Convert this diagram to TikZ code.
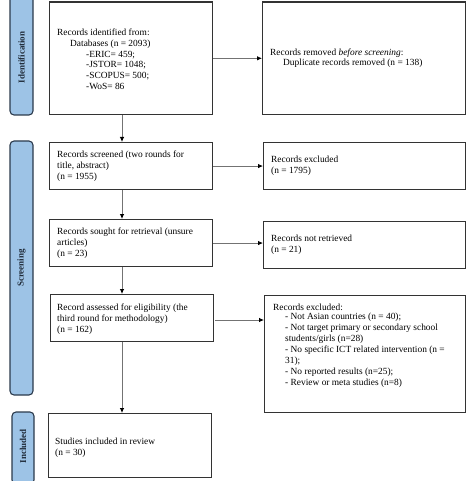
\documentclass[tikz,border=0pt]{standalone}
\usepackage{fontspec}
\setmainfont{Liberation Serif}
\usetikzlibrary{arrows.meta}
\definecolor{barfill}{HTML}{9DC3E6}
\definecolor{barline}{HTML}{2B3A4C}
\definecolor{bartext}{HTML}{1F2A38}
\newcommand{\fs}{\fontsize{9.4pt}{10.7pt}\selectfont}
\tikzset{
  box/.style={draw=black!80, line width=1.1pt, anchor=north west, inner sep=0pt},
  txt/.style={anchor=west, align=left, inner sep=0pt, font=\fs},
  bar/.style={draw=barline, fill=barfill, rounded corners=4pt, line width=1.1pt},
  barlabel/.style={rotate=90, font=\fontsize{9pt}{10pt}\selectfont\bfseries, text=bartext},
  arr/.style={draw=black!55, line width=0.8pt, -{Latex[length=5pt,width=4.5pt,color=black]}}
}
\begin{document}
\begin{tikzpicture}[x=1pt,y=-1pt]
\useasboundingbox (0,0) rectangle (474,481);
\clip (0,0) rectangle (474,481);
% side bars
\draw[bar] (10,-4) rectangle (33,115);
\node[barlabel] (idl) at (21.5,57.5) {Identification};
\draw[bar] (10,141) rectangle (33,395);
\node[barlabel] (scl) at (21.5,268) {Screening};
\draw[bar] (12,412) rectangle (34,484);
\node[barlabel] (inl) at (23,446) {Included};
% boxes
\node[box, minimum width=163pt, minimum height=112.5pt] (b1) at (49,1.5) {};
\node[box, minimum width=203pt, minimum height=112.5pt] (b2) at (262,1.5) {};
\node[box, minimum width=163pt, minimum height=47pt] (b3) at (49,142) {};
\node[box, minimum width=202pt, minimum height=47pt] (b4) at (263,142) {};
\node[box, minimum width=163pt, minimum height=47pt] (b5) at (49,219) {};
\node[box, minimum width=202pt, minimum height=47pt] (b6) at (263,221) {};
\node[box, minimum width=163pt, minimum height=47pt] (b7) at (50,294) {};
\node[box, minimum width=201pt, minimum height=117pt] (b8) at (264,295) {};
\node[box, minimum width=163pt, minimum height=64pt] (b9) at (48,413) {};
% texts
\node[txt] (t1) at ([shift={(8,1)}]b1.west)
  {Records identified from:\\
   \hspace*{13pt}Databases (n = 2093)\\
   \hspace*{29pt}-ERIC= 459;\\
   \hspace*{29pt}-JSTOR= 1048;\\
   \hspace*{29pt}-SCOPUS= 500;\\
   \hspace*{29pt}-WoS= 86};
\node[txt] (t2) at ([shift={(8,0)}]b2.west)
  {Records removed \textit{before screening}:\\
   \hspace*{13pt}Duplicate records removed (n = 138)};
\node[txt] (t3) at ([shift={(8,0)}]b3.west)
  {Records screened (two rounds for\\ title, abstract)\\ (n = 1955)};
\node[txt] (t4) at ([shift={(8,0)}]b4.west)
  {Records excluded\\ (n = 1795)};
\node[txt] (t5) at ([shift={(8,0)}]b5.west)
  {Records sought for retrieval (unsure\\ articles)\\ (n = 23)};
\node[txt] (t6) at ([shift={(8,0)}]b6.west)
  {Records not retrieved\\ (n = 21)};
\node[txt] (t7) at ([shift={(7,1)}]b7.west)
  {Record assessed for eligibility (the\\ third round for methodology)\\ (n = 162)};
\node[txt, anchor=north west, font=\fontsize{9.4pt}{11pt}\selectfont] (t8h) at ([shift={(9,9)}]b8.north west)
  {Records excluded:};
\node[txt, anchor=north west, font=\fontsize{9.4pt}{11pt}\selectfont] (t8) at ([shift={(12,2)}]t8h.south west)
  {- Not Asian countries (n = 40);\\
   - Not target primary or secondary school\\
   students/girls (n=28)\\
   - No specific ICT related intervention (n =\\
   31);\\
   - No reported results (n=25);\\
   - Review or meta studies (n=8)};
\node[txt] (t9) at ([shift={(7,2)}]b9.west)
  {Studies included in review\\ (n = 30)};
% arrows
\coordinate (ax) at (122,0);
\draw[arr] (b1) -- (b2);
\draw[arr] (b1.south -| ax) -- (b3.north -| ax);
\draw[arr] (b3) -- (b4);
\draw[arr] (b3.south -| ax) -- (b5.north -| ax);
\draw[arr] (b5.east) -- (b5.east -| b6.west);
\draw[arr] (b5.south -| ax) -- (b7.north -| ax);
\coordinate (a7) at (215,320);
\draw[arr] (a7) -- (a7 -| b8.west);
\draw[arr] (b7.south -| ax) -- (b9.north -| ax);
\end{tikzpicture}
\end{document}
